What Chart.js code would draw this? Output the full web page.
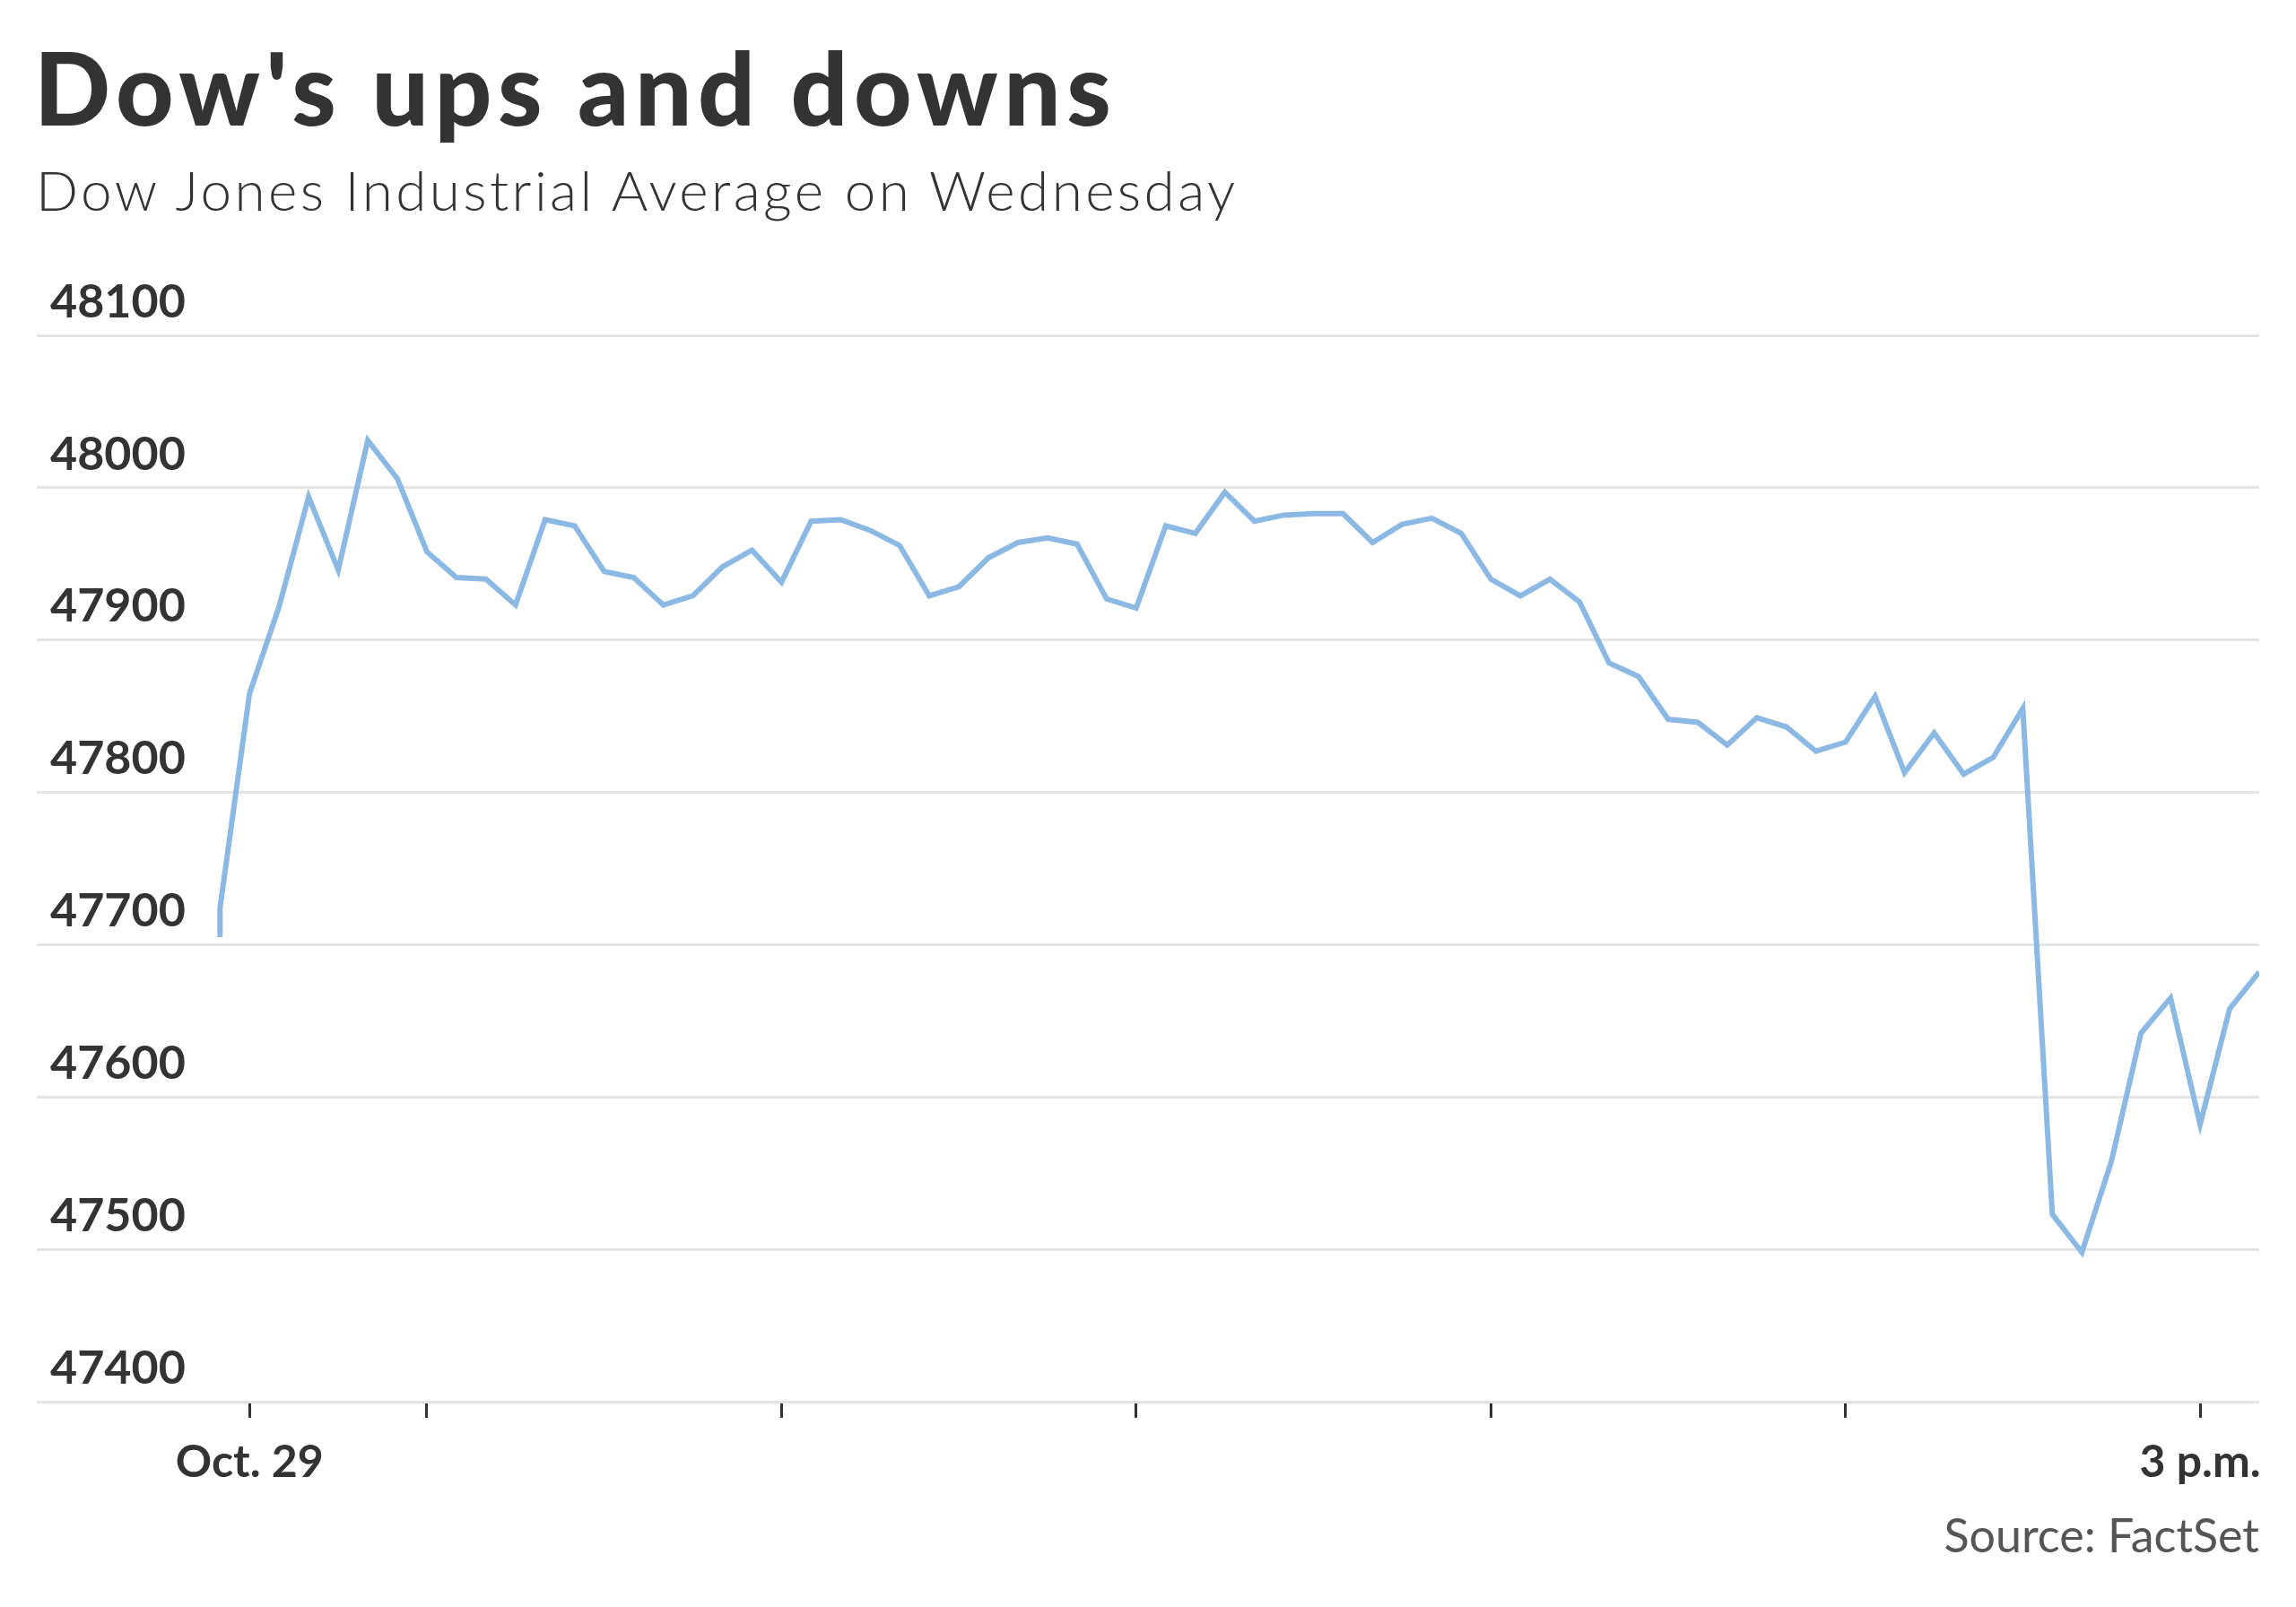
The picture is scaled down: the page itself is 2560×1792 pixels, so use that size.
<!DOCTYPE html>
<html>
<head>
<meta charset="utf-8">
<script src="https://cdn.jsdelivr.net/npm/chart.js@4.4.1/dist/chart.umd.min.js"></script>
<style>
  html, body { margin: 0; padding: 0; background: #fff; }
  body { width: 2560px; height: 1792px; position: relative; overflow: hidden; font-family: Lato, sans-serif; color: #333; }
  #wrap { position: absolute; left: 0; top: 0; width: 2560px; height: 1792px; }
  #title { position: absolute; left: 38px; top: 30px; font-size: 112px; font-weight: 900; line-height: 1.2; letter-spacing: 6.5px; white-space: nowrap; }
  #subtitle { position: absolute; left: 40px; top: 174px; font-size: 62px; font-weight: 300; line-height: 1.2; letter-spacing: 3.4px; white-space: nowrap; }
  #source { position: absolute; right: 41px; top: 1680px; font-size: 52px; font-weight: 400; line-height: 1.2; color: #555; white-space: nowrap; }
</style>
</head>
<body>
<div id="wrap"><canvas id="dow-chart"></canvas></div>
<div id="title">Dow's ups and downs</div>
<div id="subtitle">Dow Jones Industrial Average on Wednesday</div>
<div id="source">Source: FactSet</div>
<script>
// 5-minute readings, first one is the prior close
const times = [
  '9:25', '9:25', '9:30', '9:35', '9:40', '9:45', '9:50', '9:55',
  '10:00', '10:05', '10:10', '10:15', '10:20', '10:25', '10:30', '10:35', '10:40', '10:45', '10:50', '10:55',
  '11:00', '11:05', '11:10', '11:15', '11:20', '11:25', '11:30', '11:35', '11:40', '11:45', '11:50', '11:55',
  '12:00', '12:05', '12:10', '12:15', '12:20', '12:25', '12:30', '12:35', '12:40', '12:45', '12:50', '12:55',
  '1:00', '1:05', '1:10', '1:15', '1:20', '1:25', '1:30', '1:35', '1:40', '1:45', '1:50', '1:55',
  '2:00', '2:05', '2:10', '2:15', '2:20', '2:25', '2:30', '2:35', '2:40', '2:45', '2:50', '2:55',
  '3:00', '3:05', '3:10'
];

const dow = [
  47705, 47724, 47865, 47922, 47994, 47946, 48031, 48006, 47958, 47941, 47940, 47923,
  47979, 47975, 47945, 47941, 47923, 47929, 47948, 47959, 47938, 47978,
  47979, 47972, 47962, 47929, 47935, 47954, 47964, 47967, 47963, 47927,
  47921, 47975, 47970, 47997, 47978, 47982, 47983, 47983, 47964, 47976,
  47980, 47970, 47940, 47929, 47940, 47925, 47885, 47876, 47848, 47846,
  47831, 47849, 47843, 47827, 47833, 47863, 47813, 47839, 47812, 47823,
  47855, 47523, 47498, 47558, 47642, 47665, 47582, 47658, 47682
];

const tickTimes = ['9:30', '10:00', '11:00', '12:00', '1:00', '2:00', '3:00'];
const tickLabels = ['Oct. 29', '', '', '', '', '', '3 p.m.'];
const yTicks = [47400, 47500, 47600, 47700, 47800, 47900, 48000, 48100];

// afternoon hours are written 1..3, push them past noon
function toMinutes(t) {
  const [h, m] = t.split(':').map(Number);
  return (h < 9 ? h + 12 : h) * 60 + m;
}

function main() {
  const canvas = document.querySelector('#dow-chart');
  const points = times.map((t, i) => ({ x: toMinutes(t), y: dow[i] }));
  const tickMinutes = tickTimes.map(toMinutes);

  new Chart(canvas.getContext('2d'), {
    type: 'line',
    data: {
      datasets: [{
        data: points,
        borderColor: '#8bb9e3',
        borderWidth: 6,
        pointRadius: 0,
        tension: 0,
        borderJoinStyle: 'miter',
        fill: false
      }]
    },
    options: {
      responsive: true,
      maintainAspectRatio: false,
      animation: false,
      devicePixelRatio: 1,
      layout: { padding: { left: 41, right: 41, top: 374, bottom: 111 } },
      plugins: { legend: { display: false }, tooltip: { enabled: false } },
      scales: {
        x: {
          type: 'linear',
          min: 534,
          max: 910,
          afterBuildTicks: scale => { scale.ticks = tickMinutes.map(v => ({ value: v })); },
          grid: { drawOnChartArea: false, drawTicks: true, tickLength: 18, tickWidth: 3, tickColor: '#333' },
          border: { display: false },
          ticks: {
            autoSkip: false,
            maxRotation: 0,
            padding: 20,
            color: '#333',
            font: { family: 'Lato', size: 50, weight: 'bold' },
            callback: (value) => tickLabels[tickMinutes.indexOf(value)]
          }
        },
        y: {
          min: 47400,
          max: 48100,
          afterBuildTicks: scale => { scale.ticks = yTicks.map(v => ({ value: v })); },
          // labels sit inside the plot, so the axis itself takes no room
          afterFit: scale => { scale.width = 0; },
          grid: { color: '#e4e4e4', lineWidth: 3, drawTicks: false },
          border: { display: false },
          ticks: {
            mirror: true,
            padding: 15,
            labelOffset: -37,
            color: '#333',
            font: { family: 'Lato', size: 52, weight: 'bold' },
            callback: (value) => String(value)
          }
        }
      }
    }
  });
}

main();
</script>
</body>
</html>
